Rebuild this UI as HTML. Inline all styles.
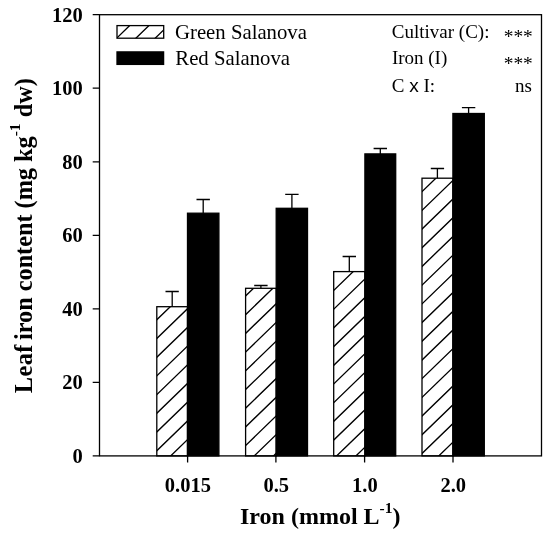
<!DOCTYPE html>
<html>
<head>
<meta charset="utf-8">
<title>Leaf iron content</title>
<style>
html,body{margin:0;padding:0;background:#fff;}
body{width:550px;height:535px;overflow:hidden;}
svg{display:block;}
text{font-family:"Liberation Serif","Times New Roman",serif;fill:#000;}
.b{font-weight:bold;}
.s{font-family:"Liberation Sans",Arial,sans-serif;}
</style>
</head>
<body>
<svg width="550" height="535" viewBox="0 0 550 535">
<defs>
<clipPath id="c0"><rect x="156.8" y="306.7" width="30.7" height="149.2"/></clipPath>
<clipPath id="c1"><rect x="245.6" y="288.3" width="30.6" height="167.6"/></clipPath>
<clipPath id="c2"><rect x="333.7" y="271.6" width="31.2" height="184.3"/></clipPath>
<clipPath id="c3"><rect x="422.0" y="178.2" width="30.9" height="277.7"/></clipPath>
<clipPath id="cl"><rect x="117.0" y="25.6" width="46.7" height="12.6"/></clipPath>
</defs>
<rect width="550" height="535" fill="#fff"/>
<!-- bars -->
<rect x="156.8" y="306.7" width="30.7" height="149.2" fill="#fff"/>
<path clip-path="url(#c0)" d="M154.8,321.7L189.5,288.1M154.8,340.4L189.5,306.8M154.8,359.1L189.5,325.5M154.8,377.8L189.5,344.2M154.8,396.5L189.5,362.9M154.8,415.2L189.5,381.6M154.8,433.9L189.5,400.3M154.8,452.6L189.5,419.0M154.8,471.3L189.5,437.7" stroke="#000" stroke-width="1.35" fill="none"/>
<rect x="156.8" y="306.7" width="30.7" height="149.2" fill="none" stroke="#000" stroke-width="1.3"/>
<rect x="245.6" y="288.3" width="30.6" height="167.6" fill="#fff"/>
<path clip-path="url(#c1)" d="M243.6,297.9L278.2,264.4M243.6,316.6L278.2,283.1M243.6,335.3L278.2,301.8M243.6,354.0L278.2,320.5M243.6,372.7L278.2,339.2M243.6,391.4L278.2,357.9M243.6,410.1L278.2,376.6M243.6,428.8L278.2,395.3M243.6,447.5L278.2,414.0M243.6,466.2L278.2,432.7M243.6,484.9L278.2,451.4" stroke="#000" stroke-width="1.35" fill="none"/>
<rect x="245.6" y="288.3" width="30.6" height="167.6" fill="none" stroke="#000" stroke-width="1.3"/>
<rect x="333.7" y="271.6" width="31.2" height="184.3" fill="#fff"/>
<path clip-path="url(#c2)" d="M331.7,273.7L366.9,239.6M331.7,292.4L366.9,258.3M331.7,311.1L366.9,277.0M331.7,329.8L366.9,295.7M331.7,348.5L366.9,314.4M331.7,367.2L366.9,333.1M331.7,385.9L366.9,351.8M331.7,404.6L366.9,370.5M331.7,423.3L366.9,389.2M331.7,442.0L366.9,407.9M331.7,460.7L366.9,426.6M331.7,479.4L366.9,445.3" stroke="#000" stroke-width="1.35" fill="none"/>
<rect x="333.7" y="271.6" width="31.2" height="184.3" fill="none" stroke="#000" stroke-width="1.3"/>
<rect x="422.0" y="178.2" width="30.9" height="277.7" fill="#fff"/>
<path clip-path="url(#c3)" d="M420.0,193.6L454.9,159.8M420.0,212.3L454.9,178.5M420.0,231.0L454.9,197.2M420.0,249.7L454.9,215.9M420.0,268.4L454.9,234.6M420.0,287.1L454.9,253.3M420.0,305.8L454.9,272.0M420.0,324.5L454.9,290.7M420.0,343.2L454.9,309.4M420.0,361.9L454.9,328.1M420.0,380.6L454.9,346.8M420.0,399.3L454.9,365.5M420.0,418.0L454.9,384.2M420.0,436.7L454.9,402.9M420.0,455.4L454.9,421.6M420.0,474.1L454.9,440.3" stroke="#000" stroke-width="1.35" fill="none"/>
<rect x="422.0" y="178.2" width="30.9" height="277.7" fill="none" stroke="#000" stroke-width="1.3"/>
<rect x="187.5" y="213.2" width="31.4" height="242.7" fill="#000" stroke="#000" stroke-width="1.3"/>
<rect x="276.2" y="208.3" width="31.3" height="247.6" fill="#000" stroke="#000" stroke-width="1.3"/>
<rect x="364.9" y="153.9" width="30.8" height="302.0" fill="#000" stroke="#000" stroke-width="1.3"/>
<rect x="452.9" y="113.5" width="31.4" height="342.4" fill="#000" stroke="#000" stroke-width="1.3"/>
<path d="M172.2,306.7V291.5M165.5,291.5H178.8M260.9,288.3V285.5M254.2,285.5H267.6M349.3,271.6V256.5M342.6,256.5H356.0M437.4,178.2V168.5M430.8,168.5H444.1M203.2,213.2V199.5M196.5,199.5H209.9M291.9,208.3V194.3M285.2,194.3H298.6M380.3,153.9V148.5M373.6,148.5H387.0M468.6,113.5V107.7M461.9,107.7H475.3" stroke="#000" stroke-width="1.3" fill="none"/>
<!-- frame -->
<rect x="99.5" y="14.7" width="442.0" height="441.2" fill="none" stroke="#000" stroke-width="1.3"/>
<path d="M92.7,14.7H99.5M92.7,88.2H99.5M92.7,161.8H99.5M92.7,235.3H99.5M92.7,308.8H99.5M92.7,382.4H99.5M92.7,455.9H99.5M187.6,455.9V462.5M275.9,455.9V462.5M364.6,455.9V462.5M453.0,455.9V462.5" stroke="#000" stroke-width="1.3" fill="none"/>
<!-- tick labels -->
<g class="b" font-size="20.5" text-anchor="end"><text x="82.8" y="21.7">120</text><text x="82.8" y="95.2">100</text><text x="82.8" y="168.8">80</text><text x="82.8" y="242.3">60</text><text x="82.8" y="315.8">40</text><text x="82.8" y="389.4">20</text><text x="82.8" y="462.9">0</text></g>
<g class="b" font-size="20.5" text-anchor="middle"><text x="187.9" y="491.5">0.015</text><text x="276.2" y="491.5">0.5</text><text x="364.9" y="491.5">1.0</text><text x="453.3" y="491.5">2.0</text></g>
<!-- axis titles -->
<text class="b" font-size="24" x="240.0" y="523.8">Iron (mmol L<tspan font-size="15.5" dy="-11">-1</tspan><tspan dy="11">)</tspan></text>
<text class="b" font-size="24.25" transform="translate(31.8,393.2) rotate(-90)"><tspan letter-spacing="0.5">Leaf</tspan><tspan dx="-2"> iron content (mg kg</tspan><tspan font-size="15.5" dy="-12">-1</tspan><tspan dy="12"> dw)</tspan></text>
<!-- legend -->
<path clip-path="url(#cl)" d="M115.0,39.8L165.7,-9.4M115.0,58.5L165.7,9.3M115.0,77.2L165.7,28.0" stroke="#000" stroke-width="1.35" fill="none"/>
<rect x="117.0" y="25.6" width="46.7" height="12.6" fill="none" stroke="#000" stroke-width="1.3"/>
<rect x="117.0" y="51.9" width="46.6" height="12.5" fill="#000" stroke="#000" stroke-width="1.3"/>
<g font-size="20.75">
<text x="175" y="39">Green Salanova</text>
<text x="175.3" y="65">Red Salanova</text>
</g>
<g font-size="19">
<text x="391.8" y="37.8">Cultivar (C):</text>
<text x="391.9" y="64.4">Iron (I)</text>
<text x="391.8" y="92.0">C <tspan class="s">x</tspan> I:</text>
<text x="532.8" y="43.0" text-anchor="end" font-size="19.4">***</text>
<text x="532.8" y="70.0" text-anchor="end" font-size="19.4">***</text>
<text x="532" y="92.0" text-anchor="end">ns</text>
</g>
</svg>
</body>
</html>
